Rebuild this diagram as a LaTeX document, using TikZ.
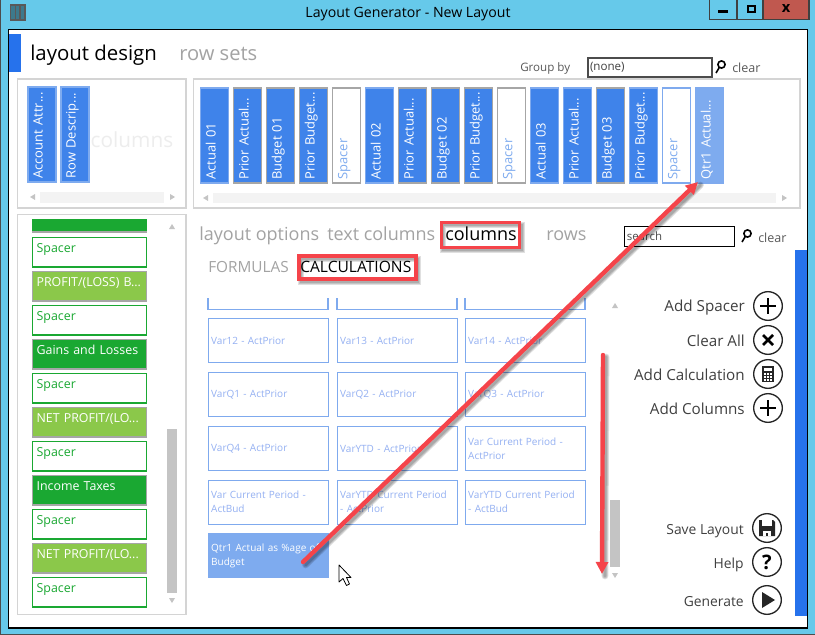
\documentclass[tikz,border=0pt]{standalone}
\usepackage{fontspec}
\setmainfont{Open Sans}
\usetikzlibrary{arrows.meta}

\definecolor{skybg}{HTML}{66C9EA}
\definecolor{accent}{HTML}{2672EC}
\definecolor{tileblue}{HTML}{3F83EA}
\definecolor{tilelight}{HTML}{7EABEF}
\definecolor{edgeblue}{HTML}{7FAAEE}
\definecolor{calctext}{HTML}{94B0F2}
\definecolor{edgegrey}{HTML}{A6A6A6}
\definecolor{darkgreen}{HTML}{1AA832}
\definecolor{lightgreen}{HTML}{8BC84A}
\definecolor{tabgrey}{HTML}{A3A3A3}
\definecolor{boxgrey}{HTML}{D4D4D4}
\definecolor{trackgrey}{HTML}{F3F3F3}
\definecolor{thumbgrey}{HTML}{C4C4C4}
\definecolor{markred}{HTML}{F5444A}
\definecolor{closered}{HTML}{C0584F}

\tikzset{
  px/.style={font=\fontsize{#1}{#1}\selectfont},
  plaintext/.style={inner sep=0pt,anchor=base west},
  coltile/.style={rotate=90,minimum width=71.25pt,minimum height=21pt,text width=66pt,
    inner xsep=2.6pt,inner ysep=0pt,text depth=6pt,align=left,text=white,fill=tileblue,line width=1pt,
    font=\fontsize{9.7}{12}\selectfont},
  colblue/.style={coltile,draw=edgeblue},
  colgrey/.style={coltile,draw=edgegrey},
  colspacer/.style={coltile,fill=white,text=tilelight,draw=edgegrey},
  colspacerb/.style={coltile,fill=white,text=tilelight,draw=edgeblue},
  colqtr/.style={coltile,fill=tilelight,draw=edgeblue},
  rowtile/.style={minimum width=85.5pt,minimum height=22pt,text width=79.5pt,inner xsep=3pt,
    inner ysep=0pt,text depth=6pt,align=left,line width=.9pt,anchor=north west,
    font=\fontsize{9.3}{11}\selectfont},
  rowspacer/.style={rowtile,fill=white,draw=darkgreen,text=darkgreen},
  rowdark/.style={rowtile,fill=darkgreen,draw=edgegrey,text=white},
  rowlight/.style={rowtile,fill=lightgreen,draw=edgegrey,text=white},
  calctile/.style={minimum width=90pt,minimum height=33pt,text width=86pt,inner xsep=2pt,
    inner ysep=0pt,align=left,draw=edgeblue,line width=.8pt,text=calctext,fill=white,
    anchor=north west,font=\fontsize{7.5}{10.5}\selectfont},
  tabtext/.style={plaintext,text=tabgrey,font=\fontsize{13.5}{15}\selectfont},
  redbox/.style={draw=markred,line width=2.5pt},
  redshade/.style={draw=black,opacity=.12},
  markarrow/.style={draw=markred,line width=3.3pt,line cap=round,-{Triangle[length=9pt,width=9pt]}},
  shadearrow/.style={draw=black,opacity=.13,line cap=round},
  btn/.style={circle,draw=black!85,line width=1pt,minimum size=21.5pt,inner sep=0pt},
  btnlabel/.style={inner sep=0pt,anchor=base east,text=black!75,font=\fontsize{11.4}{12}\selectfont},
  btnlabelb/.style={btnlabel,font=\fontsize{10.4}{12}\selectfont},
  arrowtip/.style={fill=thumbgrey}
}

\begin{document}
\begin{tikzpicture}[x=0.75pt,y=-0.75pt]
\useasboundingbox (0,0) rectangle (815,635);
\fill[skybg] (0,0) rectangle (815,635);
\draw[black!70,line width=1.2pt] (0,0) -- (0,635) -- (815,635);

% title bar
\draw[black!65,fill=skybg!60!black,line width=.8pt] (10.5,5) rectangle (25,20);
\draw[black!65,line width=.8pt] (15.5,5) -- (15.5,20) (20,5) -- (20,20);
\node[inner sep=0pt,px=10.6] (title) at (408,14) {Layout Generator - New Layout};
\fill[closered] (763,0) rectangle (809,19);
\draw[black!75,line width=.8pt] (709.5,0) -- (709.5,19.5) -- (809,19.5) -- (809,0) (737,0) -- (737,19.5) (763,0) -- (763,19.5);
\fill[black] (718,10) rectangle (728,12.6);
\draw[black,line width=1.5pt] (747.5,6.5) rectangle (755,12);
\node[inner sep=0pt,font=\fontsize{11}{11}\bfseries\selectfont] (closex) at (786,8.5) {x};

% window
\draw[black,fill=white,line width=1pt] (8.5,29.5) rectangle (807.5,628);
\fill[accent] (9,34) rectangle (21,72);
\fill[accent] (795,250) rectangle (807,616);
\node[plaintext,px=15.3] (design) at (30,61) {layout design};
\node[plaintext,px=15.1,text=tabgrey] (rowsets) at (179,61) {row sets};
\node[plaintext,px=8.7,text=black!65] (groupby) at (520,72) {Group by};
\node[draw=black!70,line width=.8pt,minimum width=93pt,minimum height=14.25pt,inner xsep=1.5pt,inner ysep=0pt,text width=90pt,px=8.7,text=black!75] (groupbox) at (650,67.5) {(none)};
\draw[black,line width=1.2pt] (721.5,64.5) circle (3.6) (719,68) -- (716,73);
\node[plaintext,px=9.4,text=black!65] (clearone) at (732,72.3) {clear};

% fixed columns box
\draw[boxgrey,line width=.8pt] (17.5,79) rectangle (186,208);
\node[inner sep=0pt,px=15.6,text=black!7] (watermark) at (132,140) {columns};
\node[colblue,fill=tileblue,draw=tilelight] (fixa) at (42,134.5) {\mbox{Account Attr...}};
\node[colblue,fill=tileblue,draw=tilelight] (fixb) at (75,134.5) {\mbox{Row Descrip...}};
\fill[trackgrey] (40,192) rectangle (164,203);
\fill[arrowtip] (35,194) -- (35,200) -- (30,197) -- cycle;
\fill[arrowtip] (170,194) -- (170,200) -- (175,197) -- cycle;

% columns box
\draw[boxgrey,line width=.8pt] (193.5,79) rectangle (800,208);
\foreach \i/\lbl/\sty in {0/{Actual 01}/colblue,1/{Prior Actual...}/colgrey,2/{Budget 01}/colgrey,
  3/{Prior Budget...}/colgrey,4/{Spacer}/colspacer,5/{Actual 02}/colblue,6/{Prior Actual...}/colgrey,
  7/{Budget 02}/colgrey,8/{Prior Budget...}/colgrey,9/{Spacer}/colspacer,10/{Actual 03}/colblue,
  11/{Prior Actual...}/colblue,12/{Budget 03}/colgrey,13/{Prior Budget...}/colblue,
  14/{Spacer}/colspacerb,15/{Qtr1 Actual...}/colqtr}
  \node[\sty] (col\i) at ({214.7+33*\i},135.5) {\mbox{\lbl}};
\fill[trackgrey] (213,193) rectangle (776,203);
\fill[arrowtip] (208,195) -- (208,201) -- (203,198) -- cycle;
\fill[arrowtip] (782,195) -- (782,201) -- (787,198) -- cycle;

% row list
\draw[boxgrey,line width=.8pt] (17.5,214.5) rectangle (186,614.5);
\fill[darkgreen] (32,219) rectangle (147,232);
\draw[edgegrey,line width=.8pt] (32,232) -- (147,232);
\foreach \i/\lbl/\sty in {0/{Spacer}/rowspacer,1/{PROFIT/(LOSS) B...}/rowlight,2/{Spacer}/rowspacer,
  3/{Gains and Losses}/rowdark,4/{Spacer}/rowspacer,5/{NET PROFIT/(LO...}/rowlight,6/{Spacer}/rowspacer,
  7/{Income Taxes}/rowdark,8/{Spacer}/rowspacer,9/{NET PROFIT/(LO...}/rowlight,10/{Spacer}/rowspacer}
  \node[\sty] (row\i) at (32,{237+34*\i}) {\lbl};
\fill[thumbgrey] (167,429) rectangle (177,593);
\fill[arrowtip] (169,229) -- (175,229) -- (172,224) -- cycle;
\fill[arrowtip] (169,598) -- (175,598) -- (172,603) -- cycle;

% tabs
\node[tabtext] (taba) at (199,240) {layout options};
\node[tabtext] (tabb) at (327,240) {text columns};
\node[tabtext,text=black] (tabc) at (445,240) {columns};
\node[tabtext] (tabd) at (546,240) {rows};
\node[plaintext,px=11.5,text=tabgrey] (formulas) at (208,272.3) {FORMULAS};
\node[plaintext,px=11.7,text=black] (calcs) at (300,272.3) {CALCULATIONS};
\node[draw=black,line width=.8pt,minimum width=83pt,minimum height=15pt,inner xsep=2pt,inner ysep=0pt,text width=79pt,px=8.6,text=black!70] (search) at (679.5,236.5) {search};
\draw[black,line width=1.2pt] (747.5,233.5) circle (3.6) (745,237) -- (742,242);
\node[plaintext,px=9.4,text=black!65] (cleartwo) at (758,242) {clear};

% calculation grid
\foreach \x in {208,337,465}
  \draw[edgeblue,line width=.8pt] (\x,298) -- (\x,309.7) -- (\x+120,309.7) -- (\x+120,298);
\node[calctile] (vara) at (208,318) {Var12 - ActPrior};
\node[calctile] (varb) at (337,318) {Var13 - ActPrior};
\node[calctile] (varc) at (465,318) {Var14 - ActPrior};
\node[calctile] (vard) at (208,372) {VarQ1 - ActPrior};
\node[calctile] (vare) at (337,372) {VarQ2 - ActPrior};
\node[calctile] (varf) at (465,372) {VarQ3 - ActPrior};
\node[calctile] (varg) at (208,426) {VarQ4 - ActPrior};
\node[calctile] (varh) at (337,426) {VarYTD - ActPrior};
\node[calctile] (vari) at (465,426) {Var Current Period -\\ActPrior};
\node[calctile] (varj) at (208,479.5) {Var Current Period -\\ActBud};
\node[calctile] (vark) at (337,479.5) {VarYTD Current Period\\- ActPrior};
\node[calctile] (varl) at (465,479.5) {VarYTD Current Period\\- ActBud};
\node[calctile,fill=tilelight,text=white] (qtr) at (208,533) {Qtr1 Actual as \%age of\\Budget};
\fill[thumbgrey] (610,500) rectangle (620,567);
\fill[arrowtip] (612,308) -- (618,308) -- (615,303) -- cycle;
\fill[arrowtip] (612,573) -- (618,573) -- (615,578) -- cycle;

% buttons
\node[btn] (btnspacer) at (768,306) {};
\node[btn] (btnclear) at (768,340) {};
\node[btn] (btncalc) at (768,374) {};
\node[btn] (btncols) at (768,408) {};
\node[btn] (btnsave) at (767,528) {};
\node[btn,font=\fontsize{15}{15}\bfseries\selectfont] (btnhelp) at (767,562) {?};
\node[btn] (btngen) at (767,600) {};
\node[btnlabel] (lblspacer) at (745,311.7) {Add Spacer};
\node[btnlabel] (lblclear) at (745,346) {Clear All};
\node[btnlabel] (lblcalc) at (745,380) {Add Calculation};
\node[btnlabel] (lblcols) at (745,414) {Add Columns};
\node[btnlabelb] (lblsave) at (744,534) {Save Layout};
\node[btnlabelb] (lblhelp) at (744,568) {Help};
\node[btnlabelb] (lblgen) at (744,606) {Generate};
\foreach \b in {btnspacer,btncols}
  \draw[black,line width=1.5pt,shift={(\b)}] (-8,0) -- (8,0) (0,-8) -- (0,8);
\draw[black,line width=2pt,shift={(btnclear)}] (-5,-5) -- (5,5) (-5,5) -- (5,-5);
\begin{scope}[shift={(btncalc)}]
\fill[black!85] (-6,-8) rectangle (6,8);
\fill[white] (-4,-6) rectangle (4,-3);
\foreach \x in {-4,-1,2} \foreach \y in {-1,2,5} \fill[white] (\x,\y) rectangle (\x+1.6,\y+1.6);
\end{scope}
\begin{scope}[shift={(btnsave)}]
\fill[black!85] (-8,-8) -- (6,-8) -- (8,-6) -- (8,8) -- (-8,8) -- cycle;
\fill[white] (-5,-8) rectangle (5,-2);
\fill[white] (-4,3) rectangle (4,8);
\fill[black!85] (-1,5) rectangle (1,8);
\end{scope}
\fill[black!85,shift={(btngen)}] (-5,-8) -- (8,0) -- (-5,8) -- cycle;

% cursor
\draw[black,fill=white,line width=.6pt,line join=round] (339,565) -- (339,582) -- (343,578.5) -- (346.5,585.5) -- (349.5,584) -- (346.5,577.5) -- (351,577.5) -- cycle;

% red marks
\foreach \w in {4.5pt,3pt,1.5pt}{
  \draw[redshade,line width=\w] (443,225) rectangle (521.5,250);
  \draw[redshade,line width=\w] (300.5,258.5) rectangle (417.5,282);
}
\draw[redbox] (441.2,222.7) rectangle (519.8,247.3);
\draw[redbox] (299,256) rectangle (416,279);
\coordinate (qtrfrom) at (303,562);
\coordinate (qtrto) at (698,182);
\coordinate (downfrom) at (603,355);
\coordinate (downto) at (602,574);
\foreach \w in {5pt,3.5pt,2pt}{
  \draw[shadearrow,line width=\w] ([shift={(2.5,3)}]qtrfrom) -- ([shift={(2.5,3)}]qtrto);
  \draw[shadearrow,line width=\w] ([shift={(3,2)}]downfrom) -- ([shift={(3,2)}]downto);
}
\draw[markarrow] (qtrfrom) -- (qtrto);
\draw[markarrow] (downfrom) -- (downto);
\end{tikzpicture}
\end{document}
